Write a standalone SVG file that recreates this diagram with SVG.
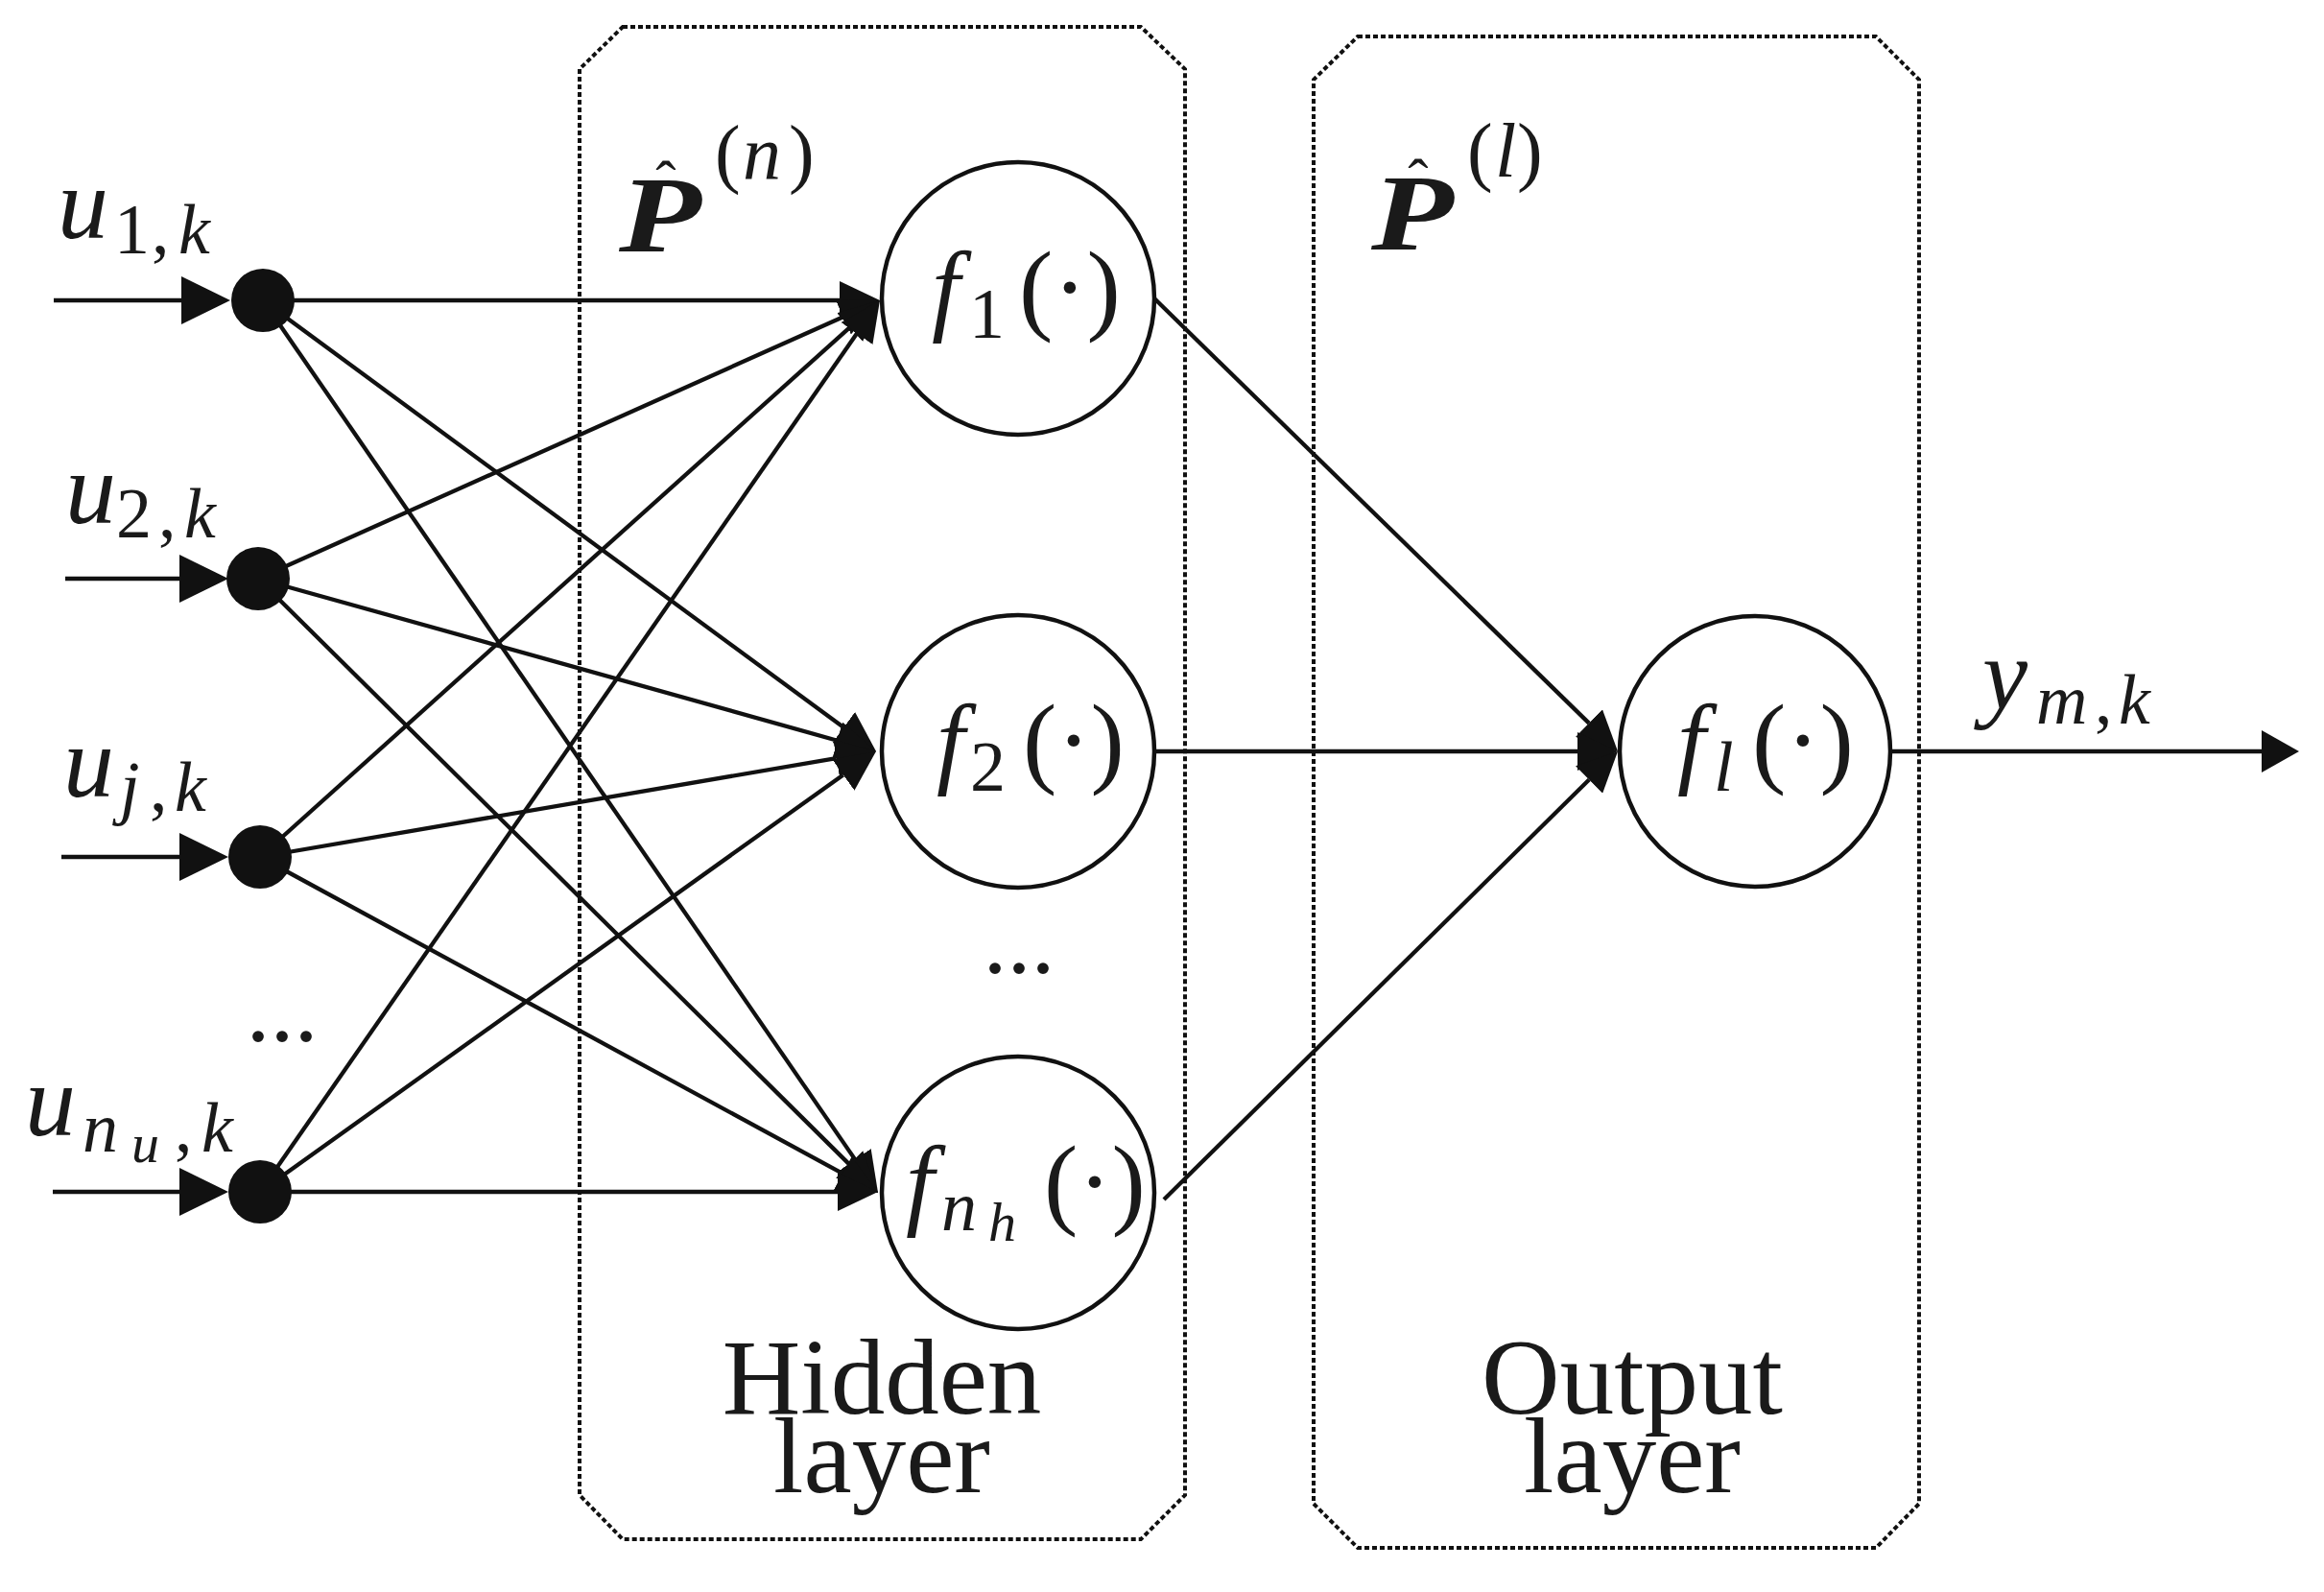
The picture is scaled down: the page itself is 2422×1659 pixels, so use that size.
<svg xmlns="http://www.w3.org/2000/svg" width="2422" height="1659" viewBox="0 0 2422 1659">
<style>
.bg{fill:#ffffff}
.box{fill:none;stroke:#111;stroke-width:4;stroke-dasharray:5 3}
.ln{fill:none;stroke:#111;stroke-width:4.3}
.node{fill:#fff;stroke:#111;stroke-width:4.5}
.dot{fill:#111}
text{font-family:"Liberation Serif","Times New Roman",serif;fill:#1a1a1a}
.mi{font-style:italic;font-size:106px}
.mr{font-size:106px}
.si{font-style:italic;font-size:74px}
.sr{font-size:74px}
.ssi{font-style:italic;font-size:58px}
.bi{font-style:italic;font-weight:bold;font-size:112px}
.hat{font-style:normal;font-weight:normal;font-size:64px;text-anchor:middle}
.sup{font-size:80px}
.supi{font-style:italic;font-size:80px}
.lbl{font-size:113px;text-anchor:middle}
.dots{font-size:100px;text-anchor:middle}
</style>
<defs>
<marker id="arrIn" markerUnits="userSpaceOnUse" viewBox="0 -25 51 50" refX="0" refY="0" markerWidth="51" markerHeight="50" orient="auto"><path d="M0,-25 L51,0 L0,25 Z" fill="#111"/></marker>
<marker id="arr" markerUnits="userSpaceOnUse" viewBox="0 -20 42 40" refX="0" refY="0" markerWidth="42" markerHeight="40" orient="auto"><path d="M0,-20 L42,0 L0,20 Z" fill="#111"/></marker>
<marker id="arrOut" markerUnits="userSpaceOnUse" viewBox="0 -22 39 44" refX="0" refY="0" markerWidth="39" markerHeight="44" orient="auto"><path d="M0,-22 L39,0 L0,22 Z" fill="#111"/></marker>
</defs>
<rect class="bg" x="0" y="0" width="2422" height="1659"/>

<g id="hidden-layer">
<path class="box" d="M649,28 L1189,28 L1235,72 L1235,1558 L1189,1604 L649,1604 L604,1558 L604,72 Z"/>
<text class="bi" x="645" y="262"><tspan textLength="86" lengthAdjust="spacingAndGlyphs">P</tspan><tspan class="hat" x="694" y="212">ˆ</tspan></text>
<text class="sup" x="745" y="186">(</text>
<text class="supi" x="774" y="186">n</text>
<text class="sup" x="822" y="186">)</text>
<text class="lbl" x="919" y="1473">Hidden<tspan x="919" y="1555">layer</tspan></text>
<text class="dots" x="1062" y="1014">...</text>
</g>

<g id="output-layer">
<path class="box" d="M1415,38 L1955,38 L2000,83 L2000,1567 L1955,1613 L1415,1613 L1369,1567 L1369,83 Z"/>
<text class="bi" x="1429" y="260"><tspan textLength="86" lengthAdjust="spacingAndGlyphs">P</tspan><tspan class="hat" x="1478" y="210">ˆ</tspan></text>
<text class="sup" x="1529" y="184">(</text>
<text class="supi" x="1558" y="184">l</text>
<text class="sup" x="1581" y="184">)</text>
<text class="lbl" x="1701" y="1473">Output<tspan x="1701" y="1555">layer</tspan></text>
</g>

<g id="connectors">
<line class="ln" x1="56" y1="313" x2="189" y2="313" marker-end="url(#arrIn)"/>
<line class="ln" x1="68" y1="603" x2="187" y2="603" marker-end="url(#arrIn)"/>
<line class="ln" x1="64" y1="893" x2="187" y2="893" marker-end="url(#arrIn)"/>
<line class="ln" x1="55" y1="1242" x2="187" y2="1242" marker-end="url(#arrIn)"/>
<line class="ln" x1="274" y1="313" x2="875" y2="313" marker-end="url(#arr)"/>
<line class="ln" x1="274" y1="313" x2="879.2" y2="758.1" marker-end="url(#arr)"/>
<line class="ln" x1="274" y1="313" x2="891.2" y2="1208.4" marker-end="url(#arr)"/>
<line class="ln" x1="269" y1="603" x2="878.7" y2="330.2" marker-end="url(#arr)"/>
<line class="ln" x1="269" y1="603" x2="872.6" y2="771.7" marker-end="url(#arr)"/>
<line class="ln" x1="269" y1="603" x2="885.2" y2="1213.4" marker-end="url(#arr)"/>
<line class="ln" x1="271" y1="893" x2="885.7" y2="341.1" marker-end="url(#arr)"/>
<line class="ln" x1="271" y1="893" x2="871.6" y2="790.1" marker-end="url(#arr)"/>
<line class="ln" x1="271" y1="893" x2="878.1" y2="1222.9" marker-end="url(#arr)"/>
<line class="ln" x1="271" y1="1242" x2="893.0" y2="347.5" marker-end="url(#arr)"/>
<line class="ln" x1="271" y1="1242" x2="878.8" y2="807.4" marker-end="url(#arr)"/>
<line class="ln" x1="271" y1="1242" x2="873" y2="1242" marker-end="url(#arr)"/>
<line class="ln" x1="1203" y1="311" x2="1656.0" y2="753.6" marker-end="url(#arr)"/>
<line class="ln" x1="1203" y1="783" x2="1644" y2="783" marker-end="url(#arr)"/>
<line class="ln" x1="1213" y1="1250" x2="1656.1" y2="812.5" marker-end="url(#arr)"/>
<line class="ln" x1="1970" y1="783" x2="2357" y2="783" marker-end="url(#arrOut)"/>
</g>

<g id="u1">
<circle class="dot" cx="274" cy="313" r="33"/>
<text class="mi" x="60" y="248">u</text>
<text class="sr" x="119" y="264">1</text>
<text class="sr" x="158" y="264">,</text>
<text class="si" x="186" y="264">k</text>
</g>
<g id="u2">
<circle class="dot" cx="269" cy="603" r="33"/>
<text class="mi" x="68" y="545">u</text>
<text class="sr" x="121" y="560">2</text>
<text class="sr" x="165" y="560">,</text>
<text class="si" x="192" y="560">k</text>
</g>
<g id="uj">
<circle class="dot" cx="271" cy="893" r="33"/>
<text class="mi" x="66" y="830">u</text>
<text class="si" x="125" y="845">j</text>
<text class="sr" x="156" y="845">,</text>
<text class="si" x="182" y="845">k</text>
</g>
<g id="input-dots">
<text class="dots" x="294" y="1085">...</text>
</g>
<g id="unu">
<circle class="dot" cx="271" cy="1242" r="33"/>
<text class="mi" x="26" y="1183">u</text>
<text class="si" x="86" y="1200">n</text>
<text class="ssi" x="137" y="1211">u</text>
<text class="sr" x="182" y="1200">,</text>
<text class="si" x="210" y="1200">k</text>
</g>

<g id="f1">
<circle class="node" cx="1061" cy="311" r="142"/>
<text class="mi" x="971" y="335">f</text>
<text class="sr" x="1010" y="352">1</text>
<text class="mr" x="1062" y="335">(·)</text>
</g>
<g id="f2">
<circle class="node" cx="1061" cy="783" r="142"/>
<text class="mi" x="976" y="807">f</text>
<text class="sr" x="1011" y="824">2</text>
<text class="mr" x="1066" y="807">(·)</text>
</g>
<g id="fnh">
<circle class="node" cx="1061" cy="1243" r="142"/>
<text class="mi" x="944" y="1267">f</text>
<text class="si" x="981" y="1282">n</text>
<text class="ssi" x="1030" y="1293">h</text>
<text class="mr" x="1088" y="1267">(·)</text>
</g>
<g id="fl">
<circle class="node" cx="1829" cy="783" r="141"/>
<text class="mi" x="1748" y="807">f</text>
<text class="si" x="1786" y="824">l</text>
<text class="mr" x="1826" y="807">(·)</text>
</g>
<g id="ymk">
<text class="mi" x="2066" y="738">y</text>
<text class="si" x="2122" y="754">m</text>
<text class="sr" x="2183" y="754">,</text>
<text class="si" x="2208" y="754">k</text>
</g>
</svg>
